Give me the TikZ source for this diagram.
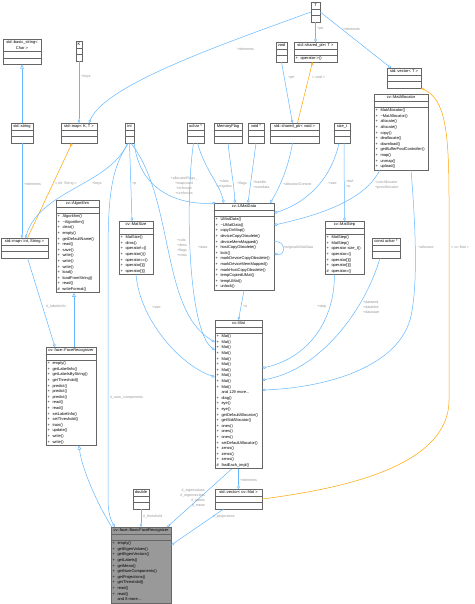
\documentclass[tikz,border=0pt]{standalone}
\usepackage{fontspec}
\setmainfont{Liberation Sans}
\usepackage{tikz}
\usetikzlibrary{calc, arrows.meta, shapes.multipart}
\definecolor{edgeBlue}{RGB}{99, 184, 255}
\definecolor{tmplOrange}{RGB}{255, 165, 0}
\definecolor{boxLine}{RGB}{102, 102, 102}
\definecolor{lblGray}{RGB}{150, 150, 150}
\definecolor{focusFill}{RGB}{153, 153, 153}

\newcommand{\pubm}[1]{\strut\makebox[5pt][l]{+}#1}
\newcommand{\protm}[1]{\strut\makebox[5pt][l]{\#}#1}
\newcommand{\morem}[1]{\strut\hspace*{5pt}#1}
\newcommand{\emptyrow}{\strut}

\begin{document}
\begin{tikzpicture}[x=1pt, y=-1pt,
  cls/.style={rectangle split, rectangle split parts=3, draw=boxLine, line width=0.45pt,
    fill=white, inner xsep=1.5pt, inner ysep=0.25pt, anchor=north, align=left,
    rectangle split part align={center, left, left}, font=\fontsize{4}{5.6}\selectfont},
  uses/.style={draw=edgeBlue, line width=0.5pt, -{Diamond[open, length=4pt, width=2.6pt]}},
  tmpl/.style={draw=tmplOrange, line width=0.5pt, -{Diamond[open, length=4pt, width=2.6pt]}},
  inh/.style={draw=edgeBlue, line width=0.5pt, -{Triangle[open, length=4pt, width=3.8pt]}},
  elbl/.style={font=\fontsize{3.6}{5}\selectfont, text=lblGray, inner sep=0pt, align=left, anchor=west}]
  \fill[white] (0,0) rectangle (474,604);
  \useasboundingbox (0,0) rectangle (474,604);

  % Top row
  \node[cls, minimum width=9pt] (T) at (315.5,2) {\strut T\nodepart{two}\emptyrow\nodepart{three}\emptyrow};
  \node[cls, minimum width=38pt] (bstr) at (22,39)
    {\begin{tabular}{@{}c@{}}std::basic\_string<\\Char >\end{tabular}\nodepart{two}\emptyrow\nodepart{three}\emptyrow};
  \node[cls, minimum width=6pt] (K) at (79,41) {\strut K\nodepart{two}\emptyrow\nodepart{three}\emptyrow};
  \node[cls, minimum width=11pt] (voidT) at (281.5,42) {\strut void\nodepart{two}\emptyrow\nodepart{three}\emptyrow};
  \node[cls, minimum width=43pt] (sptrT) at (315.5,42)
    {\strut std::shared\_ptr< T >\nodepart{two}\emptyrow\nodepart{three}\pubm{operator->()}};
  \node[cls, minimum width=34pt] (vecT) at (404,68) {\strut std::vector< T >\nodepart{two}\emptyrow\nodepart{three}\emptyrow};

  % Member types
  \node[cls, minimum width=22pt] (str) at (22,123) {\strut std::string\nodepart{two}\emptyrow\nodepart{three}\emptyrow};
  \node[cls, minimum width=36pt] (mapKT) at (79,123) {\strut std::map< K, T >\nodepart{two}\emptyrow\nodepart{three}\emptyrow};
  \node[cls, minimum width=9pt] (int) at (129.5,123) {\strut int\nodepart{two}\emptyrow\nodepart{three}\emptyrow};
  \node[cls, minimum width=17pt] (ucharP) at (195.5,123) {\strut uchar *\nodepart{two}\emptyrow\nodepart{three}\emptyrow};
  \node[cls, minimum width=28pt] (mflag) at (228,123) {\strut MemoryFlag\nodepart{two}\emptyrow\nodepart{three}\emptyrow};
  \node[cls, minimum width=16pt] (voidP) at (256,123) {\strut void *\nodepart{two}\emptyrow\nodepart{three}\emptyrow};
  \node[cls, minimum width=49pt] (sptrV) at (294.5,123) {\strut std::shared\_ptr< void >\nodepart{two}\emptyrow\nodepart{three}\emptyrow};
  \node[cls, minimum width=16pt] (sizeT) at (342,123) {\strut size\_t\nodepart{two}\emptyrow\nodepart{three}\emptyrow};

  \node[cls, minimum width=54pt] (alloc) at (401,94) {\strut cv::MatAllocator\nodepart{two}\emptyrow\nodepart{three}%
    \pubm{MatAllocator()}\\\pubm{\textasciitilde MatAllocator()}\\\pubm{allocate()}\\\pubm{allocate()}\\%
    \pubm{copy()}\\\pubm{deallocate()}\\\pubm{download()}\\\pubm{getBufferPoolController()}\\%
    \pubm{map()}\\\pubm{unmap()}\\\pubm{upload()}};

  \node[cls, minimum width=60pt] (umat) at (244,203) {\strut cv::UMatData\nodepart{two}\emptyrow\nodepart{three}%
    \pubm{UMatData()}\\\pubm{\textasciitilde UMatData()}\\\pubm{copyOnMap()}\\\pubm{deviceCopyObsolete()}\\%
    \pubm{deviceMemMapped()}\\\pubm{hostCopyObsolete()}\\\pubm{lock()}\\\pubm{markDeviceCopyObsolete()}\\%
    \pubm{markDeviceMemMapped()}\\\pubm{markHostCopyObsolete()}\\\pubm{tempCopiedUMat()}\\%
    \pubm{tempUMat()}\\\pubm{unlock()}};

  \node[cls, minimum width=43pt] (algo) at (77.5,200) {\strut cv::Algorithm\nodepart{two}\emptyrow\nodepart{three}%
    \pubm{Algorithm()}\\\pubm{\textasciitilde Algorithm()}\\\pubm{clear()}\\\pubm{empty()}\\%
    \pubm{getDefaultName()}\\\pubm{read()}\\\pubm{save()}\\\pubm{write()}\\\pubm{write()}\\%
    \pubm{write()}\\\pubm{load()}\\\pubm{loadFromString()}\\\pubm{read()}\\\protm{writeFormat()}};

  \node[cls, minimum width=47pt] (mapIS) at (24.5,238) {\strut std::map< int, String >\nodepart{two}\emptyrow\nodepart{three}\emptyrow};

  \node[cls, minimum width=34pt] (msize) at (136,221) {\strut cv::MatSize\nodepart{two}\emptyrow\nodepart{three}%
    \pubm{MatSize()}\\\pubm{dims()}\\\pubm{operator!=()}\\\pubm{operator()()}\\%
    \pubm{operator==()}\\\pubm{operator[]()}\\\pubm{operator[]()}};

  \node[cls, minimum width=39pt] (mstep) at (344.5,221) {\strut cv::MatStep\nodepart{two}\emptyrow\nodepart{three}%
    \pubm{MatStep()}\\\pubm{MatStep()}\\\pubm{operator size\_t()}\\\pubm{operator=()}\\%
    \pubm{operator[]()}\\\pubm{operator[]()}\\\protm{operator=()}};

  \node[cls, minimum width=28pt] (cuchar) at (386,238) {\strut const uchar *\nodepart{two}\emptyrow\nodepart{three}\emptyrow};

  \node[cls, minimum width=50pt] (facerec) at (71,347) {\strut cv::face::FaceRecognizer\nodepart{two}\emptyrow\nodepart{three}%
    \pubm{empty()}\\\pubm{getLabelInfo()}\\\pubm{getLabelsByString()}\\\pubm{getThreshold()}\\%
    \pubm{predict()}\\\pubm{predict()}\\\pubm{predict()}\\\pubm{read()}\\\pubm{read()}\\%
    \pubm{setLabelInfo()}\\\pubm{setThreshold()}\\\pubm{train()}\\\pubm{update()}\\%
    \pubm{write()}\\\pubm{write()}};

  \node[cls, minimum width=47pt] (mat) at (238.5,320) {\strut cv::Mat\nodepart{two}\emptyrow\nodepart{three}%
    \pubm{Mat()}\\\pubm{Mat()}\\\pubm{Mat()}\\\pubm{Mat()}\\\pubm{Mat()}\\%
    \pubm{Mat()}\\\pubm{Mat()}\\\pubm{Mat()}\\\pubm{Mat()}\\\pubm{Mat()}\\%
    \morem{and 129 more...}\\\pubm{diag()}\\\pubm{eye()}\\\pubm{eye()}\\%
    \pubm{getDefaultAllocator()}\\\pubm{getStdAllocator()}\\\pubm{ones()}\\\pubm{ones()}\\%
    \pubm{ones()}\\\pubm{setDefaultAllocator()}\\\pubm{zeros()}\\\pubm{zeros()}\\%
    \pubm{zeros()}\\\protm{fastEach\_impl()}};

  \node[cls, minimum width=16pt] (dbl) at (141,489) {\strut double\nodepart{two}\emptyrow\nodepart{three}\emptyrow};
  \node[cls, minimum width=47pt] (vecMat) at (238.5,489) {\strut std::vector< cv::Mat >\nodepart{two}\emptyrow\nodepart{three}\emptyrow};

  \node[cls, minimum width=60pt, fill=focusFill] (bfr) at (141,527) {\strut cv::face::BasicFaceRecognizer\nodepart{two}\emptyrow\nodepart{three}%
    \pubm{empty()}\\\pubm{getEigenValues()}\\\pubm{getEigenVectors()}\\\pubm{getLabels()}\\%
    \pubm{getMean()}\\\pubm{getNumComponents()}\\\pubm{getProjections()}\\\pubm{getThreshold()}\\%
    \pubm{read()}\\\pubm{read()}\\\morem{and 8 more...}};

  % Inheritance
  \draw[inh] (str.north) -- (bstr.south);
  \draw[inh] ($(facerec.north)+(3,0)$) -- ($(algo.south)+(-3.5,0)$);
  \draw[inh] ($(bfr.north west)+(1,0)$) .. controls (98,505) and (82,470) .. ($(facerec.south)+(8,0)$);

  % Template instances
  \draw[tmpl] ($(sptrV.north)+(3,0)$) -- ($(sptrT.south)+(-3,0)$);
  \draw[tmpl] ($(mapIS.north)+(3,0)$) -- ($(mapKT.south)+(-7,0)$);
  \draw[tmpl] (vecMat.east) .. controls (330,490) and (449,470) .. (449,400) -- (449,200)
    .. controls (449,130) and (445,100) .. (vecT.south east);

  % Members
  \draw[uses] (K.south) -- (mapKT.north);
  \draw[uses] (T.west) .. controls (220,45) and (105,85) .. ($(mapKT.north)+(10,0)$);
  \draw[uses] (T.south) -- (sptrT.north);
  \draw[uses] (T.east) -- ($(vecT.north)+(-13,0)$);
  \draw[uses] (voidT.south) -- ($(sptrV.north)+(-2,0)$);
  \draw[uses] (str.south) -- ($(mapIS.north)+(-2.5,0)$);
  \draw[uses] ($(int.south)+(-2,0)$) .. controls (110,185) and (40,190) .. ($(mapIS.north)+(1,0)$);
  \draw[uses] (int.south) -- ($(msize.north)+(-4,0)$);
  \draw[uses] (int.south east) .. controls (140,195) and (185,205) .. ($(umat.north west)+(2,0)$);
  \draw[uses] ($(int.south)+(1.5,0)$) .. controls (175,200) and (160,310) .. ($(mat.north west)+(0,22)$);
  \draw[uses] ($(int.south)+(-1,0)$) .. controls (110,170) and (108,200) .. (108,260) -- (108,500)
    .. controls (108,515) and (112,522) .. ($(bfr.north west)+(4,0)$);
  \draw[uses] ($(ucharP.south)+(2,0)$) .. controls (205,170) and (220,185) .. ($(umat.north west)+(10,0)$);
  \draw[uses] ($(ucharP.south)+(-2,0)$) .. controls (185,200) and (188,330) .. ($(mat.north west)+(0,30)$);
  \draw[uses] (mflag.south) .. controls (231,170) and (234,185) .. ($(umat.north)+(-9,0)$);
  \draw[uses] (voidP.south) -- ($(umat.north)+(4,0)$);
  \draw[uses] ($(sptrV.south)+(-2,0)$) .. controls (288,170) and (278,190) .. ($(umat.north east)+(-4,0)$);
  \draw[uses] ($(sizeT.south)+(-3,0)$) .. controls (330,185) and (300,205) .. ($(umat.north east)+(0,10)$);
  \draw[uses] ($(alloc.south west)+(6,0)$) .. controls (365,200) and (320,215) .. ($(umat.north east)+(0,22)$);
  \draw[uses] ($(sizeT.south)+(2,0)$) -- (mstep.north);
  \draw[uses] ($(umat.east)+(0,-5)$) .. controls (286,240) and (286,256) .. ($(umat.east)+(0,7)$);
  \draw[uses] (umat.south) -- (mat.north);
  \draw[uses] (msize.south) .. controls (140,320) and (180,365) .. ($(mat.north west)+(0,57)$);
  \draw[uses] ($(mstep.south)+(-10,0)$) .. controls (334,330) and (300,360) .. ($(mat.north east)+(0,48)$);
  \draw[uses] ($(cuchar.south)+(-6,0)$) .. controls (365,310) and (320,370) .. ($(mat.north east)+(0,60)$);
  \draw[uses] ($(alloc.south)+(10,0)$) .. controls (416,230) and (418,290) .. (410,320)
    .. controls (395,370) and (320,388) .. ($(mat.north east)+(0,70)$);
  \draw[uses] ($(mapIS.south)+(3,0)$) -- ($(facerec.north)+(-16,0)$);
  \draw[uses] (dbl.south) -- (bfr.north);
  \draw[uses] ($(mat.south west)+(17,0)$) -- ($(bfr.north east)+(-4,0)$);
  \draw[uses] ($(vecMat.south)+(-15,0)$) -- ($(bfr.east)+(0,-20)$);
  \draw[uses] (mat.south) -- (vecMat.north);

  % Edge labels
  \node[elbl] (lbElemT) at (237,49) {+elements};
  \node[elbl] (lbKeysK) at (81,77) {+keys};
  \node[elbl] (lbPtrT) at (317,29) {+ptr};
  \node[elbl] (lbElemV) at (343,29) {+elements};
  \node[elbl] (lbPtrV) at (288,78) {+ptr};
  \node[elbl] (lbVoid) at (312,77) {< void >};
  \node[elbl] (lbCvMat) at (451,247) {< cv::Mat >};
  \node[elbl] (lbElemS) at (24,184) {+elements};
  \node[elbl] (lbIntStr) at (55,184) {< int, String >};
  \node[elbl] (lbKeysI) at (92,184) {+keys};
  \node[elbl] (lbP) at (132,184) {+p};
  \node[elbl, align=center, anchor=center] (lbCount) at (184,185.5) {+allocatorFlags\_\\+mapcount\\+refcount\\+urefcount};
  \node[elbl, align=center, anchor=center] (lbData) at (224,184.5) {+data\\+origdata};
  \node[elbl] (lbFlags) at (237,184) {+flags};
  \node[elbl] (lbHandle) at (253,184.5) {+handle\\+userdata};
  \node[elbl] (lbCtx) at (283,184) {+allocatorContext};
  \node[elbl] (lbSizeU) at (328,183) {+size};
  \node[elbl] (lbBuf) at (346,184.5) {+buf\\+p};
  \node[elbl] (lbAllocU) at (375,185) {+currAllocator\\+prevAllocator};
  \node[elbl] (lbOrig) at (283,247.5) {+originalUMatData};
  \node[elbl] (lbCols) at (177,248) {+cols\\+dims\\+flags\\+rows};
  \node[elbl] (lbDataM) at (198,247) {+data};
  \node[elbl] (lbSizeM) at (152,307) {+size};
  \node[elbl] (lbU) at (243,306) {+u};
  \node[elbl] (lbStep) at (317,307) {+step};
  \node[elbl] (lbDataEnd) at (363,307) {+dataend\\+datalimit\\+datastart};
  \node[elbl] (lbAllocM) at (418,247) {+allocator};
  \node[elbl] (lbLabels) at (46,307) {\#\_labelsInfo};
  \node[elbl] (lbNum) at (110,398) {\#\_num\_components};
  \node[elbl] (lbThr) at (143,517) {\#\_threshold};
  \node[elbl, align=right, anchor=east] (lbEigen) at (205,498.5) {\#\_eigenvalues\\\#\_eigenvectors\\\#\_labels\\\#\_mean};
  \node[elbl] (lbProj) at (213,517) {\#\_projections};
  \node[elbl] (lbElemM) at (240,480) {+elements};
\end{tikzpicture}
\end{document}
